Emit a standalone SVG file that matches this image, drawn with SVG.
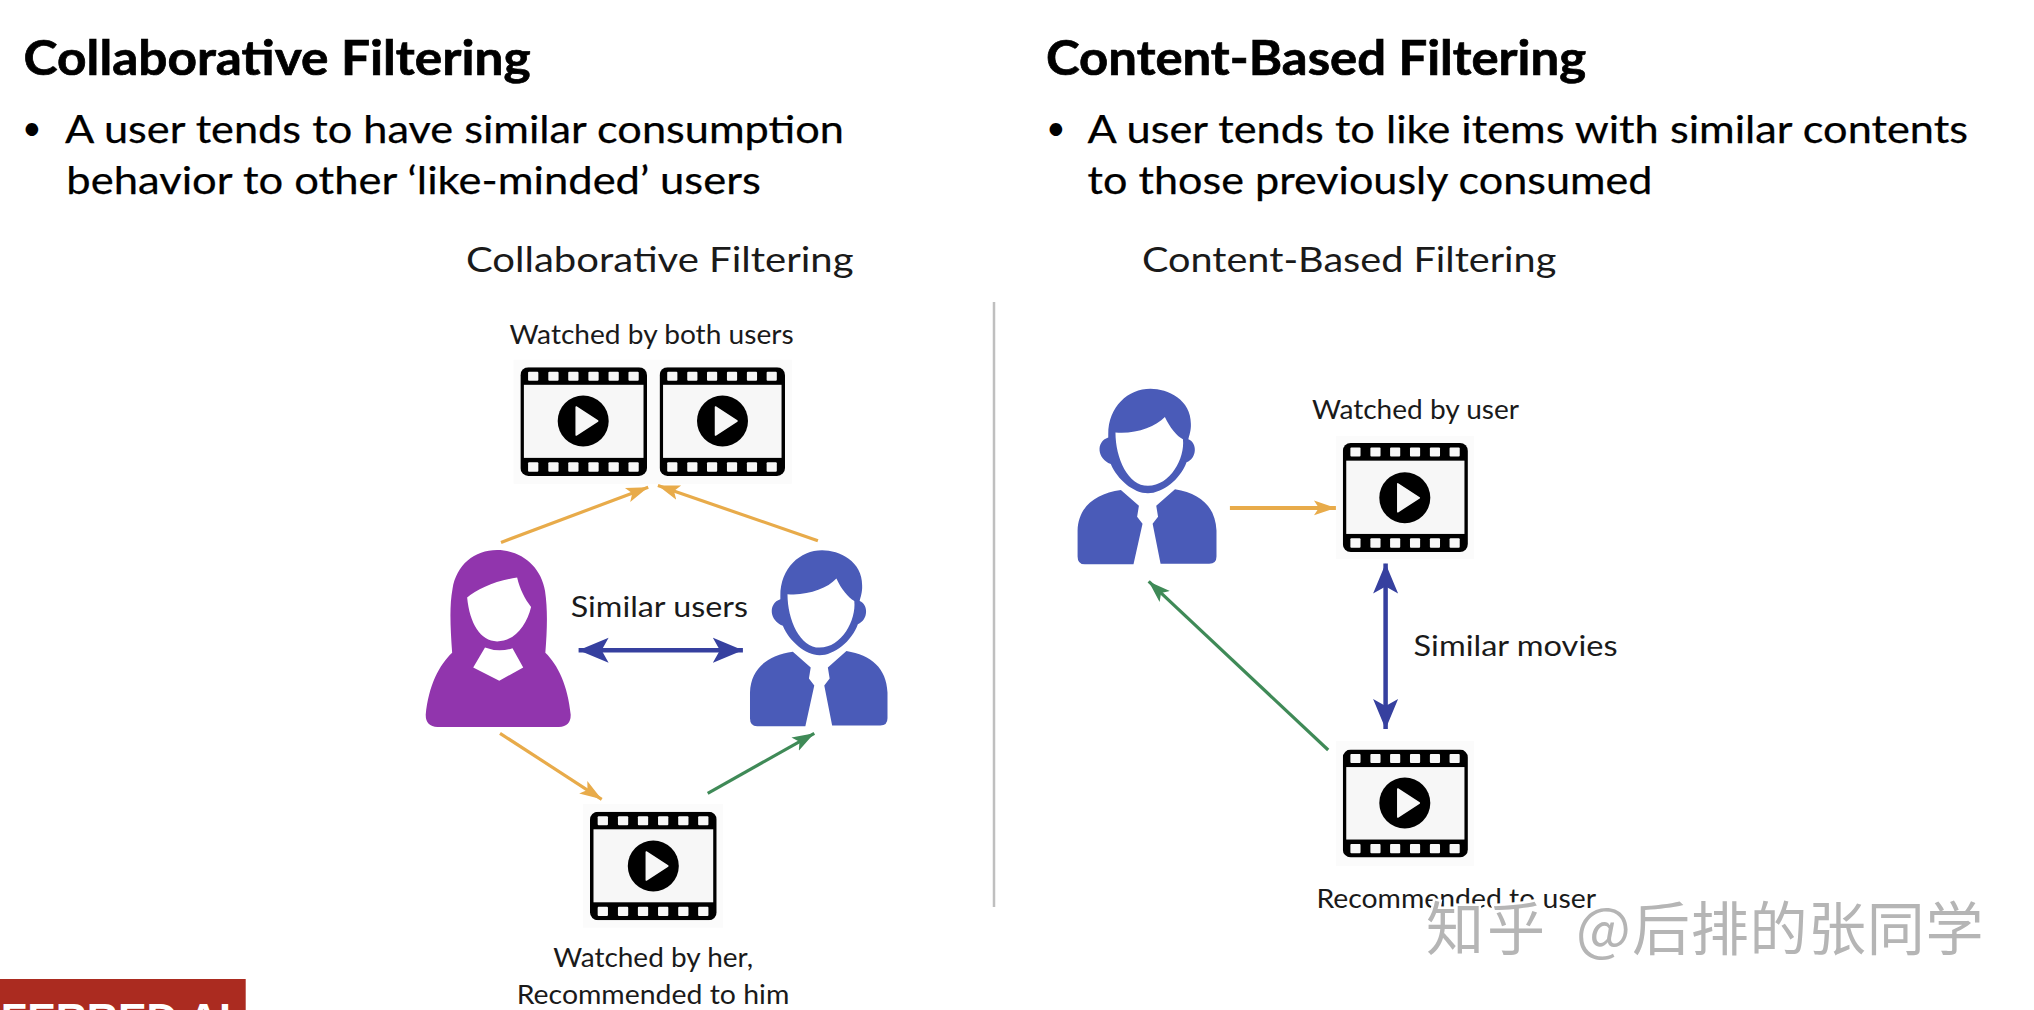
<svg xmlns="http://www.w3.org/2000/svg" width="2034" height="1010" viewBox="0 0 2034 1010">
<style>
text{font-family:Lato,"Liberation Sans",sans-serif;fill:#000}
.h{font-size:47px;font-weight:700;stroke:#000;stroke-width:.7px}
.b{font-size:39.5px;stroke:#000;stroke-width:.25px}
.d{font-size:34px}
.s{font-size:34.5px;fill:#1a1a1a}
.l{font-size:26.5px;fill:#1a1a1a}
.m{font-size:28.5px;fill:#1a1a1a}
.bg{fill:#fbfbfb}
.c{fill:none;stroke-width:3.2}
.o{stroke:#e8ab4a}
.g{stroke:#3f8a57}
.u{stroke:#36409f;stroke-width:4.5}
.wm{font-family:"Noto Sans CJK SC",sans-serif;font-size:58px;fill:#b5b5b5;stroke:#fff;stroke-width:5px;paint-order:stroke}
.woman{fill:#9135ad}
.man{fill:#4a5bb8}
</style>
<defs>
<marker id="ao" markerUnits="userSpaceOnUse" markerWidth="24" markerHeight="18" refX="22" refY="9" orient="auto"><path d="M0 1.5L22 9L0 16.5L5 9Z" fill="#e8ab4a"/></marker>
<marker id="ag" markerUnits="userSpaceOnUse" markerWidth="24" markerHeight="18" refX="22" refY="9" orient="auto"><path d="M0 1.5L22 9L0 16.5L5 9Z" fill="#3f8a57"/></marker>
<marker id="au" markerUnits="userSpaceOnUse" markerWidth="32" markerHeight="28" refX="30" refY="14" orient="auto-start-reverse"><path d="M0 1.5L30 14L0 26.5L7 14Z" fill="#36409f"/></marker>
<symbol id="film" viewBox="0 0 127 108.6" preserveAspectRatio="none">
<rect width="127" height="108.6" rx="8" fill="#000"/>
<rect x="3.5" y="17.6" width="120" height="73" fill="#f7f7f7"/>
<g fill="#f7f7f7">
<rect x="7.7" y="4.5" width="10.3" height="9" rx="1"/><rect x="28" y="4.5" width="10.3" height="9" rx="1"/><rect x="48" y="4.5" width="10.3" height="9" rx="1"/><rect x="68.2" y="4.5" width="10.3" height="9" rx="1"/><rect x="88.4" y="4.5" width="10.3" height="9" rx="1"/><rect x="108.4" y="4.5" width="10.3" height="9" rx="1"/>
<rect x="7.7" y="95" width="10.3" height="9.4" rx="1"/><rect x="28" y="95" width="10.3" height="9.4" rx="1"/><rect x="48" y="95" width="10.3" height="9.4" rx="1"/><rect x="68.2" y="95" width="10.3" height="9.4" rx="1"/><rect x="88.4" y="95" width="10.3" height="9.4" rx="1"/><rect x="108.4" y="95" width="10.3" height="9.4" rx="1"/>
</g>
</symbol>
<g id="play"><circle r="25.5" fill="#000"/><path d="M-7-14L14.5 0L-7 14Z" fill="#f7f7f7" stroke="#f7f7f7" stroke-width="1.5" stroke-linejoin="round"/></g>
<g id="manShape" class="man" fill-rule="evenodd">
<path d="M1065 1090C1065 1010 1120 958 1182 958C1230 958 1295 990 1294 1060C1295 1080 1289 1095 1287 1105C1312 1115 1312 1160 1282 1172C1265 1222 1215 1262 1175 1262C1135 1262 1090 1222 1072 1177C1034 1162 1030 1112 1065 1100ZM1085 1085C1085 1160 1120 1240 1175 1240C1237 1240 1278 1160 1272 1105C1255 1095 1235 1070 1222 1040C1195 1070 1140 1090 1085 1085Z"/>
<path d="M1100 1252L1150 1298L1145 1330L1160 1350L1135 1468L1000 1468Q980 1468 980 1445L980 1370C982 1300 1030 1262 1100 1252Z"/>
<path d="M1250 1250C1320 1262 1362 1300 1365 1370L1365 1445Q1365 1466 1345 1466L1210 1466L1188 1350L1203 1330L1198 1298Z"/>
</g>
</defs>
<rect width="2034" height="1010" fill="#fff"/>

<g id="header-left">
<text class="h" x="23.6" y="75" textLength="507" lengthAdjust="spacingAndGlyphs">Collaborative Filtering</text>
<text class="d" x="22" y="140">•</text>
<text class="b" x="65" y="143.3" textLength="779" lengthAdjust="spacingAndGlyphs">A user tends to have similar consumption</text>
<text class="b" x="66.3" y="194.3" textLength="694.5" lengthAdjust="spacingAndGlyphs">behavior to other ‘like-minded’ users</text>
</g>
<g id="header-right">
<text class="h" x="1046" y="75" textLength="540" lengthAdjust="spacingAndGlyphs">Content-Based Filtering</text>
<text class="d" x="1046" y="140">•</text>
<text class="b" x="1087.6" y="143.3" textLength="880.4" lengthAdjust="spacingAndGlyphs">A user tends to like items with similar contents</text>
<text class="b" x="1087.6" y="194.3" textLength="564.8" lengthAdjust="spacingAndGlyphs">to those previously consumed</text>
</g>
<text id="title-cf" class="s" x="466" y="271.7" textLength="387.5" lengthAdjust="spacingAndGlyphs">Collaborative Filtering</text>
<text id="title-cb" class="s" x="1142" y="271.7" textLength="414.3" lengthAdjust="spacingAndGlyphs">Content-Based Filtering</text>
<line id="divider" x1="994" y1="302" x2="994" y2="907" stroke="#bfbfbf" stroke-width="2.5"/>

<g id="node-both">
<rect class="bg" x="513.6" y="359.7" width="278.2" height="124.1"/>
<use href="#film" x="520.4" y="367.2" width="126.6" height="108.7"/>
<use href="#film" x="659.6" y="367.2" width="125.4" height="108.7"/>
<use href="#play" x="583.2" y="421"/>
<use href="#play" x="722.5" y="421"/>
<text class="l" x="509.6" y="344" textLength="284" lengthAdjust="spacingAndGlyphs">Watched by both users</text>
</g>
<g id="node-her-movie">
<rect class="bg" x="583" y="804" width="140" height="123.7"/>
<use href="#film" x="590" y="811.7" width="126.7" height="108.6"/>
<use href="#play" x="653.3" y="866"/>
<text class="l" x="553.3" y="967" textLength="199.7" lengthAdjust="spacingAndGlyphs">Watched by her,</text>
<text class="l" x="516.7" y="1003.5" textLength="272.6" lengthAdjust="spacingAndGlyphs">Recommended to him</text>
</g>
<g id="node-woman" class="woman" transform="translate(400 220) scale(.35714 .34483)">
<path fill-rule="evenodd" d="M105 1470Q72 1470 72 1435C80 1350 110 1290 146 1255C141 1180 138 1120 147 1070C158 1000 208 957 272 957C340 957 395 1005 406 1075C414 1130 412 1190 407 1255C442 1290 470 1350 478 1435Q478 1470 445 1470ZM188 1095C195 1170 225 1222 272 1222C320 1222 355 1175 367 1122C350 1100 335 1070 328 1037C270 1045 215 1070 188 1095ZM238 1240L205 1298L278 1336L345 1298L315 1242Q276 1255 238 1240Z"/>
</g>
<g id="node-man-left" transform="translate(400 220) scale(.35714 .34483)"><use href="#manShape"/></g>
<g id="node-sim-users"><text class="m" x="570.7" y="616.6" textLength="177.3" lengthAdjust="spacingAndGlyphs">Similar users</text></g>

<g id="node-man-right" transform="translate(724 58.6) scale(.3608 .3445)"><use href="#manShape"/></g>
<g id="node-user-movie">
<rect class="bg" x="1336" y="436" width="138" height="123"/>
<use href="#film" x="1342.8" y="443" width="125.1" height="109"/>
<use href="#play" x="1404.8" y="497.8"/>
<text class="l" x="1312" y="419" textLength="207" lengthAdjust="spacingAndGlyphs">Watched by user</text>
</g>
<g id="node-rec-movie">
<rect class="bg" x="1336" y="741" width="138" height="125"/>
<use href="#film" x="1342.8" y="749.6" width="125.1" height="107.8"/>
<use href="#play" x="1404.8" y="803"/>
<text class="l" x="1316.4" y="908" textLength="279.6" lengthAdjust="spacingAndGlyphs">Recommended to user</text>
</g>
<g id="node-sim-movies"><text class="m" x="1413.6" y="655.8" textLength="203.9" lengthAdjust="spacingAndGlyphs">Similar movies</text></g>

<g id="connectors">
<line class="c o" x1="501" y1="542.4" x2="648.2" y2="487.2" marker-end="url(#ao)"/>
<line class="c o" x1="817.9" y1="540.7" x2="657.9" y2="485.5" marker-end="url(#ao)"/>
<line class="c u" x1="578.6" y1="650.3" x2="742.9" y2="650.3" marker-start="url(#au)" marker-end="url(#au)"/>
<line class="c o" x1="500" y1="733.3" x2="601.7" y2="799.3" marker-end="url(#ao)"/>
<line class="c g" x1="707.7" y1="793.3" x2="814.3" y2="733.3" marker-end="url(#ag)"/>
<line class="c o" style="stroke-width:4" x1="1229.9" y1="507.9" x2="1335.9" y2="507.9" marker-end="url(#ao)"/>
<line class="c u" x1="1385.6" y1="563.6" x2="1385.6" y2="729" marker-start="url(#au)" marker-end="url(#au)"/>
<line class="c g" x1="1328.2" y1="750" x2="1148.7" y2="581.4" marker-end="url(#ag)"/>
</g>

<g id="badge">
<rect x="0" y="979" width="245.7" height="31" fill="#ab2b20"/>
<text x="231" y="1032.5" text-anchor="end" style="font-family:'Liberation Sans',sans-serif;font-size:43px;font-weight:700;fill:#fff">FERRED AI</text>
</g>
<text id="watermark" class="wm" y="950"><tspan x="1426" letter-spacing="3">知乎 </tspan><tspan x="1576">@</tspan><tspan x="1632" letter-spacing=".7">后排的张同学</tspan></text>
</svg>
